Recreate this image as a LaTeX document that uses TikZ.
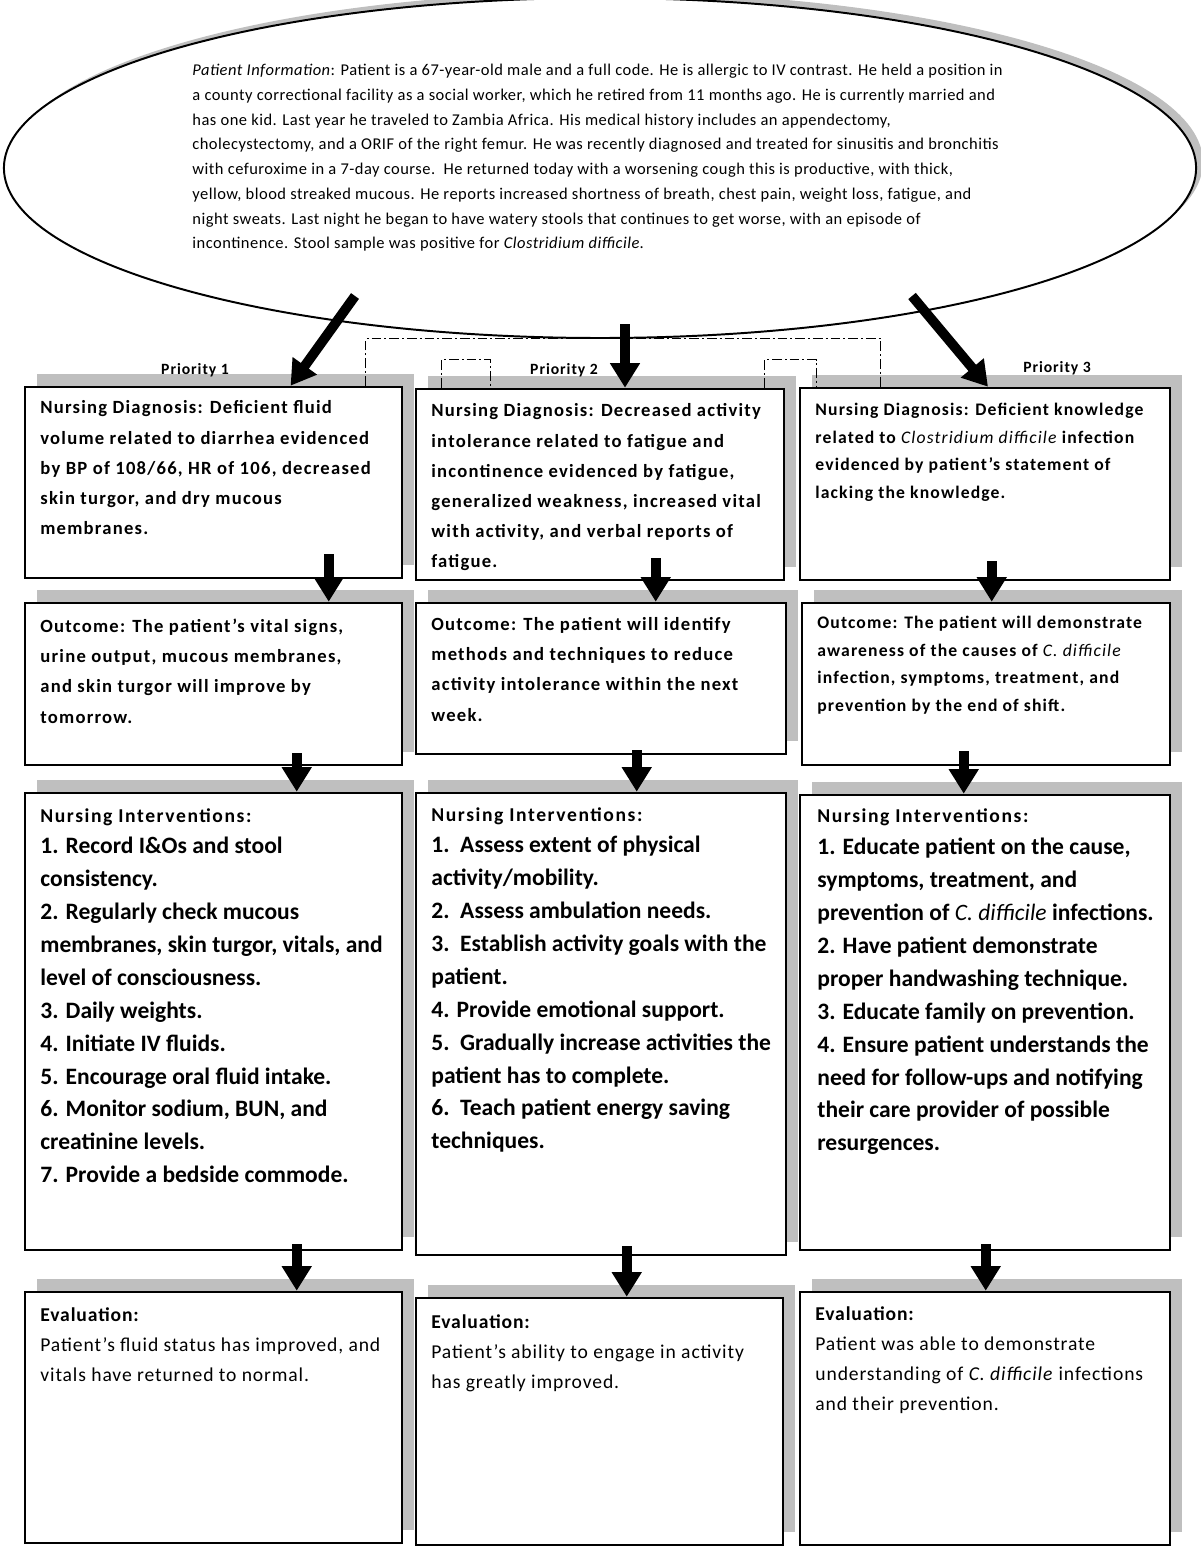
\documentclass[tikz,border=0pt]{standalone}
\usepackage{fontspec}
\setmainfont{Carlito}
\usetikzlibrary{arrows.meta,shadows,fit,shapes.geometric,calc}

\tikzset{
  box/.style={draw, line width=1.3pt, fill=white, inner sep=0pt,
    general shadow={fill=black!25, shadow xshift=6.2pt, shadow yshift=6.6pt}},
  flow/.style={line width=5pt, -{Triangle[width=14.5pt,length=12.5pt]}},
  link/.style={line width=0.7pt, dash pattern=on 5pt off 1.5pt on 1pt off 1.5pt},
  txt/.style={anchor=north west, inner sep=0pt, align=left},
  infotxt/.style={txt, font=\fontsize{8.4}{12.6}\selectfont\addfontfeature{LetterSpace=3}},
  bodytxt/.style={txt, font=\fontsize{9.5}{15.4}\selectfont\bfseries\addfontfeature{LetterSpace=6.6}},
  smalltxt/.style={txt, font=\fontsize{9}{14}\selectfont\bfseries\addfontfeature{LetterSpace=6.4}},
  headtxt/.style={txt, font=\fontsize{10}{15}\selectfont\bfseries\addfontfeature{LetterSpace=8}},
  itemtxt/.style={txt, font=\fontsize{12}{16.8}\selectfont\bfseries},
  evaltxt/.style={txt, font=\fontsize{10}{15.4}\selectfont\addfontfeature{LetterSpace=4.5}},
  prio/.style={inner sep=0pt, font=\fontsize{8}{9}\selectfont\bfseries\addfontfeature{LetterSpace=6}}
}

\begin{document}
\begin{tikzpicture}[x=0.51pt, y=-0.51pt]
  \useasboundingbox (0,0) rectangle (1200,1553);
  \node[ellipse, draw, line width=1pt, fill=white, inner sep=0pt,
    minimum width=608pt, minimum height=173.4pt,
    general shadow={fill=black!25, shadow xshift=3.5pt, shadow yshift=3pt}] (info) at (600,168) {};
  \node[infotxt] (infotext) at (192,64) {\textit{Patient Information}: Patient is a 67-year-old male and a full code. He is allergic to IV contrast. He held a position in\\
a county correctional facility as a social worker, which he retired from 11 months ago. He is currently married and\\
has one kid. Last year he traveled to Zambia Africa. His medical history includes an appendectomy,\\
cholecystectomy, and a ORIF of the right femur. He was recently diagnosed and treated for sinusitis and bronchitis\\
with cefuroxime in a 7-day course.\ \ He returned today with a worsening cough this is productive, with thick,\\
yellow, blood streaked mucous. He reports increased shortness of breath, chest pain, weight loss, fatigue, and\\
night sweats. Last night he began to have watery stools that continues to get worse, with an episode of\\
incontinence. Stool sample was positive for \textit{Clostridium difficile}.};

  \node[box, fit={(25,387) (402,578)}] (diag1) {};
  \node[box, fit={(416,389) (784,580)}] (diag2) {};
  \node[box, fit={(800,388) (1170,580)}] (diag3) {};
  \node[box, fit={(25,603) (402,765)}] (out1) {};
  \node[box, fit={(416,603) (786,754)}] (out2) {};
  \node[box, fit={(802,603) (1170,765)}] (out3) {};
  \node[box, fit={(25,793) (402,1250)}] (int1) {};
  \node[box, fit={(416,793) (786,1255)}] (int2) {};
  \node[box, fit={(800,795) (1170,1250)}] (int3) {};
  \node[box, fit={(25,1292) (402,1543)}] (eval1) {};
  \node[box, fit={(416,1298) (783,1545)}] (eval2) {};
  \node[box, fit={(800,1292) (1170,1545)}] (eval3) {};

  \node[prio] (prio1) at (195,370) {Priority 1};
  \node[prio] (prio2) at (564,370) {Priority 2};
  \node[prio] (prio3) at (1057,368) {Priority 3};

  \coordinate (l1) at ([shift={(342,0)}]diag1.north west);
  \coordinate (l2) at ([shift={(82,0)}]diag3.north west);
  \draw[link] (l1) -- ++(0,-47) -| (l2);
  \coordinate (l3) at ([shift={(27,0)}]diag2.north west);
  \coordinate (l4) at ([shift={(76,0)}]diag2.north west);
  \draw[link] (l3) -- ++(0,-28) -| (l4);
  \coordinate (l5) at ([shift={(350,0)}]diag2.north west);
  \coordinate (l6) at ([shift={(18,0)}]diag3.north west);
  \draw[link] (l5) -- ++(0,-28) -| (l6);

  \coordinate (e1) at (355,296);
  \coordinate (e2) at (625,324);
  \coordinate (e3) at (912,296);
  \draw[flow] (e1) -- ($(diag1.north west)!0.703!(diag1.north east)$);
  \draw[flow] (e2) -- (e2 |- diag2.north);
  \draw[flow] (e3) -- ($(diag3.north west)!0.508!(diag3.north east)$);

  \coordinate (do1) at ([shift={(305,-25)}]diag1.south west);
  \coordinate (do2) at ([shift={(241,-23)}]diag2.south west);
  \coordinate (do3) at ([shift={(193,-20)}]diag3.south west);
  \draw[flow] (do1) -- (do1 |- out1.north);
  \draw[flow] (do2) -- (do2 |- out2.north);
  \draw[flow] (do3) -- (do3 |- out3.north);
  \coordinate (oi1) at ([shift={(273,-13)}]out1.south west);
  \coordinate (oi2) at ([shift={(222,-5)}]out2.south west);
  \coordinate (oi3) at ([shift={(163,-15)}]out3.south west);
  \draw[flow] (oi1) -- (oi1 |- int1.north);
  \draw[flow] (oi2) -- (oi2 |- int2.north);
  \draw[flow] (oi3) -- (oi3 |- int3.north);
  \coordinate (ie1) at ([shift={(273,-7)}]int1.south west);
  \coordinate (ie2) at ([shift={(212,-10)}]int2.south west);
  \coordinate (ie3) at ([shift={(187,-7)}]int3.south west);
  \draw[flow] (ie1) -- (ie1 |- eval1.north);
  \draw[flow] (ie2) -- (ie2 |- eval2.north);
  \draw[flow] (ie3) -- (ie3 |- eval3.north);

  \node[bodytxt] (diag1text) at (40,400.5) {Nursing Diagnosis: Deficient fluid\\
volume related to diarrhea evidenced\\
by BP of 108/66, HR of 106, decreased\\
skin turgor, and dry mucous\\
membranes.};
  \node[bodytxt] (diag2text) at (431,403.5) {Nursing Diagnosis: Decreased activity\\
intolerance related to fatigue and\\
incontinence evidenced by fatigue,\\
generalized weakness, increased vital\\
with activity, and verbal reports of\\
fatigue.};
  \node[smalltxt] (diag3text) at (815,403) {Nursing Diagnosis: Deficient knowledge\\
related to {\mdseries\itshape Clostridium difficile} infection\\
evidenced by patient’s statement of\\
lacking the knowledge.};

  \node[bodytxt] (out1text) at (40,618.5) {Outcome: The patient’s vital signs,\\
urine output, mucous membranes,\\
and skin turgor will improve by\\
tomorrow.};
  \node[bodytxt] (out2text) at (431,617) {Outcome: The patient will identify\\
methods and techniques to reduce\\
activity intolerance within the next\\
week.};
  \node[smalltxt] (out3text) at (817,616) {Outcome: The patient will demonstrate\\
awareness of the causes of {\mdseries\itshape C. difficile}\\
infection, symptoms, treatment, and\\
prevention by the end of shift.};

  \node[headtxt] (int1head) at (40,808) {Nursing Interventions:};
  \node[headtxt] (int2head) at (431,807) {Nursing Interventions:};
  \node[headtxt] (int3head) at (817,808) {Nursing Interventions:};
  \node[itemtxt] (int1text) at (40,836.5) {1. Record I\&Os and stool\\
consistency.\\
2. Regularly check mucous\\
membranes, skin turgor, vitals, and\\
level of consciousness.\\
3. Daily weights.\\
4. Initiate IV fluids.\\
5. Encourage oral fluid intake.\\
6. Monitor sodium, BUN, and\\
creatinine levels.\\
7. Provide a bedside commode.};
  \node[itemtxt] (int2text) at (431,835.5) {1.\ \ Assess extent of physical\\
activity/mobility.\\
2.\ \ Assess ambulation needs.\\
3.\ \ Establish activity goals with the\\
patient.\\
4. Provide emotional support.\\
5.\ \ Gradually increase activities the\\
patient has to complete.\\
6.\ \ Teach patient energy saving\\
techniques.};
  \node[itemtxt] (int3text) at (817,837.5) {1. Educate patient on the cause,\\
symptoms, treatment, and\\
prevention of {\mdseries\itshape C. difficile} infections.\\
2. Have patient demonstrate\\
proper handwashing technique.\\
3. Educate family on prevention.\\
4. Ensure patient understands the\\
need for follow-ups and notifying\\
their care provider of possible\\
resurgences.};

  \node[evaltxt] (eval1text) at (40,1307) {\textbf{Evaluation:}\\
Patient’s fluid status has improved, and\\
vitals have returned to normal.};
  \node[evaltxt] (eval2text) at (431,1314) {\textbf{Evaluation:}\\
Patient’s ability to engage in activity\\
has greatly improved.};
  \node[evaltxt] (eval3text) at (815,1306) {\textbf{Evaluation:}\\
Patient was able to demonstrate\\
understanding of \textit{C. difficile} infections\\
and their prevention.};
\end{tikzpicture}
\end{document}
